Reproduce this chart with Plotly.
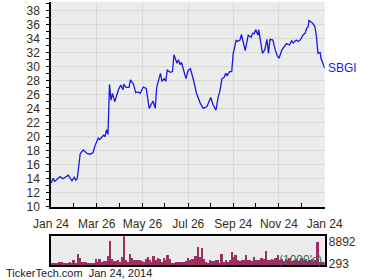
import numpy as np
import plotly.graph_objects as go

# ---- data ----
day_offset = [0, 3, 5, 12, 16, 23, 28, 31, 33, 35, 39, 43, 48, 52, 56, 59, 63, 65, 70, 72,
              74, 76, 78, 80, 82, 85, 90, 93, 96, 97, 100, 104, 106, 110, 113, 116, 119, 123,
              127, 131, 136, 139, 141, 144, 146, 148, 151, 153, 155, 159, 162, 164, 168, 170,
              172, 174, 177, 180, 183, 186, 190, 194, 199, 203, 208, 210, 213, 216, 220, 223,
              225, 228, 231, 233, 235, 238, 241, 243, 247, 249, 252, 254, 259, 263, 267, 269,
              271, 273, 276, 277, 280, 282, 285, 288, 290, 292, 296, 299, 302, 304, 308, 312,
              314, 318, 321, 323, 327, 330, 333, 336, 339, 341, 343, 344, 346, 349, 352, 354,
              356, 359, 360, 362, 363, 365]
close = [13.4, 14.05, 13.6, 14.3, 14.0, 14.5, 13.7, 14.2, 13.8, 14.0, 17.6, 18.1, 17.6, 17.5,
         17.7, 18.8, 19.8, 19.6, 20.2, 20.0, 21.0, 20.3, 27.5, 25.2, 26.2, 25.0, 26.7, 27.4,
         26.7, 27.5, 27.05, 27.05, 28.1, 27.5, 26.3, 26.4, 26.2, 27.1, 26.9, 24.05, 25.1, 24.05,
         27.1, 28.3, 29.05, 27.9, 28.3, 27.9, 29.5, 29.2, 29.3, 31.7, 30.5, 31.0, 30.3, 30.6,
         29.5, 28.3, 29.5, 29.7, 28.1, 26.2, 24.8, 24.05, 24.3, 24.8, 25.6, 24.6, 23.8, 25.7,
         26.4, 28.3, 28.5, 29.05, 28.7, 29.3, 29.3, 31.9, 33.8, 33.6, 33.8, 34.6, 32.3, 34.5,
         34.2, 34.8, 34.7, 35.3, 34.5, 35.3, 32.9, 31.9, 32.4, 33.9, 31.9, 33.9, 33.8, 32.4,
         31.5, 31.2, 32.4, 32.9, 33.3, 33.1, 33.7, 33.4, 33.8, 33.6, 33.9, 34.5, 34.8, 35.5,
         35.7, 36.6, 36.4, 36.2, 35.7, 34.3, 31.9, 32.0, 31.2, 30.7, 30.5, 29.8]

volume = [640, 640, 510, 640, 1000, 1150, 380, 380, 770, 1020, 510, 1660, 510, 4200, 2700,
          1150, 1150, 1000, 770, 640, 640, 640, 2300, 1000, 2050, 1150, 1280, 1280, 3500, 9100,
          2300, 1280, 1280, 1660, 1150, 2900, 11000, 1660, 1150, 4200, 2700, 1900, 1900, 1900,
          1660, 1280, 900, 2300, 2940, 1660, 1020, 3300, 1660, 2700, 2300, 1020, 2700, 1660,
          3800, 2300, 640, 640, 1150, 900, 900, 1020, 1020, 1280, 2430, 1660, 2300, 2300, 3450,
          6770, 2940, 6500, 2300, 1020, 640, 1660, 1400, 1400, 1900, 1900, 640, 4200, 1020,
          1900, 1150, 1900, 4850, 3000, 3600, 1900, 1400, 1900, 1900, 3800, 1660, 1660, 1400,
          2940, 1660, 1900, 1900, 2700, 2170, 5240, 1900, 1660, 2300, 1660, 2430, 3580, 1800,
          2300, 1500, 2000, 1700, 2600, 1600, 1900, 2200, 1500, 1800, 2400, 1700, 2000, 1600,
          1900, 2100, 1500, 1800, 8892, 1020, 1020, 1200]

tick_days = [0, 61, 122, 183, 243, 304, 365]
tick_text = ["Jan 24", "Mar 26", "May 26", "Jul 26", "Sep 24", "Nov 24", "Jan 24"]
minor_days = [30, 91, 152, 213, 273, 334]
price_ticks = list(range(10, 39, 2))
vol_ticks = [293, 8892]
symbol = "SBGI"
footer = "TickerTech.com\u00a0 Jan 24, 2014"

# ---- figure ----
W, H = 380, 280
FONT = "Arial, Liberation Sans, sans-serif"
LBL = "#3a2c12"
xd = [51 / W, 324.7 / W]

vol_x = np.linspace(1, 364, len(volume))

fig = go.Figure()
fig.add_trace(go.Scatter(x=day_offset, y=close, mode="lines",
                         line=dict(color="#1a1ae6", width=1.3), xaxis="x", yaxis="y",
                         hoverinfo="skip"))
fig.add_trace(go.Bar(x=vol_x, y=volume, marker=dict(color="#9c2f62", line=dict(width=0)),
                     width=365 / len(volume), xaxis="x2", yaxis="y2", hoverinfo="skip"))

fig.update_layout(
    width=W, height=H, margin=dict(l=0, r=0, t=0, b=0, autoexpand=False),
    paper_bgcolor="white", plot_bgcolor="#ececec", showlegend=False,
    font=dict(family=FONT, size=12, color=LBL),
    bargap=0,
    xaxis=dict(domain=xd, range=[0, 365], tickmode="array", tickvals=tick_days,
               ticktext=tick_text, showgrid=True, gridcolor="#d9d9d9", gridwidth=1,
               showline=True, linecolor="black", linewidth=1.5, ticks="inside", ticklen=4,
               tickcolor="black", ticklabelstandoff=5, zeroline=False, automargin=False,
               minor=dict(tickmode="array", tickvals=minor_days, ticks="inside", ticklen=4,
                          tickcolor="black", showgrid=False),
               tickfont=dict(size=12, color=LBL), anchor="y"),
    yaxis=dict(domain=[1 - 206.7 / H, 1 - 2 / H], range=[10, 10 + 204.7 / 7],
               tickmode="array", tickvals=price_ticks, showgrid=True, gridcolor="#d9d9d9",
               gridwidth=1, showline=True, linecolor="black", linewidth=1.5,
               ticks="outside", ticklen=3, tickcolor="black", zeroline=False,
               ticklabelstandoff=4, automargin=False,
               minor=dict(dtick=1, ticks="outside", ticklen=3, tickcolor="black",
                          showgrid=False),
               tickfont=dict(size=12, color=LBL), anchor="x"),
    xaxis2=dict(domain=xd, range=[0, 365], showticklabels=False, ticks="", showgrid=False,
                showline=True, mirror=True, linecolor="black", linewidth=1.5,
                zeroline=False, anchor="y2", automargin=False),
    yaxis2=dict(domain=[1 - 265 / H, 1 - 236.3 / H], range=[0, 11000], side="right",
                tickmode="array", tickvals=vol_ticks, ticks="", showgrid=False,
                showline=True, mirror=True, linecolor="black", linewidth=1.5,
                zeroline=False, ticklabelstandoff=0, automargin=False,
                tickfont=dict(size=12, color=LBL), anchor="x2"),
    annotations=[
        dict(x=365, y=close[-1], xref="x", yref="y", text=symbol, showarrow=False,
             xanchor="left", yanchor="middle", xshift=1,
             font=dict(size=12, color="#1a1ae6", family=FONT)),
        dict(x=324 / W, y=1 - 259.5 / H, xref="paper", yref="paper", text="(1000's)",
             showarrow=False, xanchor="right", yanchor="middle",
             font=dict(size=12, color="#2f6a52", family=FONT)),
        dict(x=4 / W, y=1 - 272.5 / H, xref="paper", yref="paper", text=footer,
             showarrow=False, xanchor="left", yanchor="middle",
             font=dict(size=11, color="#222222", family=FONT)),
    ],
)

fig.write_html("out.html")
